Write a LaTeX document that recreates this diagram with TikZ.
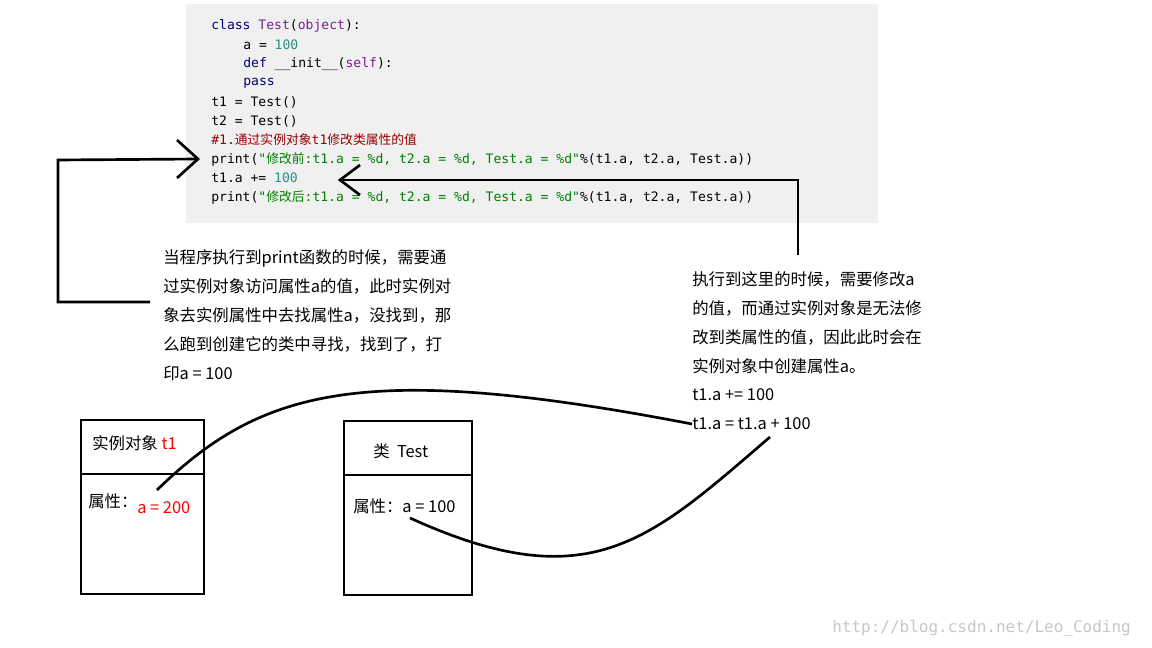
\documentclass[tikz,border=0pt]{standalone}
\usepackage{fontspec}
\setmainfont{Noto Sans CJK SC}
\setmonofont{DejaVu Sans Mono}
\newfontfamily\cjkmono{Noto Sans CJK SC}
\usetikzlibrary{positioning,calc}
\definecolor{codebg}{HTML}{F0F0F0}
\definecolor{kwblue}{HTML}{000080}
\definecolor{clspurple}{HTML}{7A1F8C}
\definecolor{numteal}{HTML}{2E8B8B}
\definecolor{strgreen}{HTML}{008000}
\definecolor{cmtred}{HTML}{990000}
\tikzset{
    codeline/.style = {anchor=west, inner sep=0pt, font=\ttfamily\fontsize{9.8pt}{11pt}\selectfont},
    note/.style = {anchor=west, inner sep=0pt, font=\fontsize{12.3pt}{14pt}\selectfont},
    objbox/.style = {draw, line width=2pt},
    link/.style = {line width=2pt},
    openhead/.style = {line width=2pt}
}
\newcommand{\cj}[1]{{\cjkmono\fontsize{9.6pt}{11pt}\selectfont #1}}
\begin{document}
\begin{tikzpicture}[x=0.75pt,y=-0.75pt]
    \useasboundingbox (0,0) rectangle (1152,648);
    % code block
    \fill[codebg] (186,4) rectangle (878,223);
    \node[codeline] (L1) at (211,26) {\color{kwblue}class \color{clspurple}Test\color{black}(\color{clspurple}object\color{black}):};
    \node[codeline] (L2) at (243,45) {a = \color{numteal}100};
    \node[codeline] (L3) at (243,64) {\color{kwblue}def \color{black}\_\_init\_\_(\color{clspurple}self\color{black}):};
    \node[codeline] (L4) at (243,83) {\color{kwblue}pass};
    \node[codeline] (L5) at (211,102) {t1 = Test()};
    \node[codeline] (L6) at (211,121) {t2 = Test()};
    \node[codeline,text=cmtred] (L7) at (211,140) {\#1.\cj{通过实例对象}t1\cj{修改类属性的值}};
    \node[codeline] (L8) at (211,159) {print(\color{strgreen}"\cj{修改前}:t1.a = \%d, t2.a = \%d, Test.a = \%d"\color{black}\%(t1.a, t2.a, Test.a))};
    \node[codeline] (L9) at (211,178) {t1.a += \color{numteal}100};
    \node[codeline] (L10) at (211,197) {print(\color{strgreen}"\cj{修改后}:t1.a = \%d, t2.a = \%d, Test.a = \%d"\color{black}\%(t1.a, t2.a, Test.a))};

    % explanations
    \node[note] (N1) at (163,258) {当程序执行到print函数的时候，需要通};
    \node[note] (N2) at (163,286) {过实例对象访问属性a的值，此时实例对};
    \node[note] (N3) at (163,315) {象去实例属性中去找属性a，没找到，那};
    \node[note] (N4) at (163,344) {么跑到创建它的类中寻找，找到了，打};
    \node[note] (N5) at (163,373) {印a = 100};
    \node[note] (R1) at (692,279) {执行到这里的时候，需要修改a};
    \node[note] (R2) at (692,308) {的值，而通过实例对象是无法修};
    \node[note] (R3) at (692,337) {改到类属性的值，因此此时会在};
    \node[note] (R4) at (692,366) {实例对象中创建属性a。};
    \node[note] (R5) at (692,395) {t1.a += 100};
    \node[note] (R6) at (692,424) {t1.a = t1.a + 100};

    % object boxes
    \draw[objbox] (81,420) rectangle (204,594);
    \draw[objbox] (81,474) -- (204,474);
    \draw[objbox] (344,421) rectangle (472,595);
    \draw[objbox] (344,475) -- (472,475);
    \node[note] (T1) at (92,443) {实例对象 \textcolor{red}{t1}};
    \node[note] (P1) at (88,501) {属性：};
    \node[note,text=red] (V1) at (137,508) {a = 200};
    \node[note] (TC) at (373,451) {类 \ Test};
    \node[note] (P2) at (353,506) {属性：a = 100};

    % arrows
    \coordinate (LA) at (198,159);
    \coordinate (LB) at (150,302);
    \draw[link] (LB) -- (58,302) -- (58,160) -- (LA);
    \draw[openhead] ($(LA)+(-21,-19)$) -- (LA) -- ($(LA)+(-21,19)$);
    \coordinate (RA) at (340,180);
    \coordinate (RB) at (798,255);
    \draw[link] (RB) -- (798,180) -- (RA);
    \draw[openhead] ($(RA)+(20,-15)$) -- (RA) -- ($(RA)+(20,15)$);

    % curves
    \coordinate (C1) at (157,490);
    \coordinate (C2) at (770,437);
    \coordinate (C3) at (410,518);
    \draw[link] (C1) .. controls (260,390) and (360,360) .. (R6.west);
    \draw[link] (C2) .. controls (650,540) and (590,600) .. (C3);
    % watermark
    \node[anchor=west, inner sep=0pt, text=black!22, font=\ttfamily\fontsize{12pt}{14pt}\selectfont] (WM) at (832,628) {http://blog.csdn.net/Leo\_Coding};
\end{tikzpicture}
\end{document}
